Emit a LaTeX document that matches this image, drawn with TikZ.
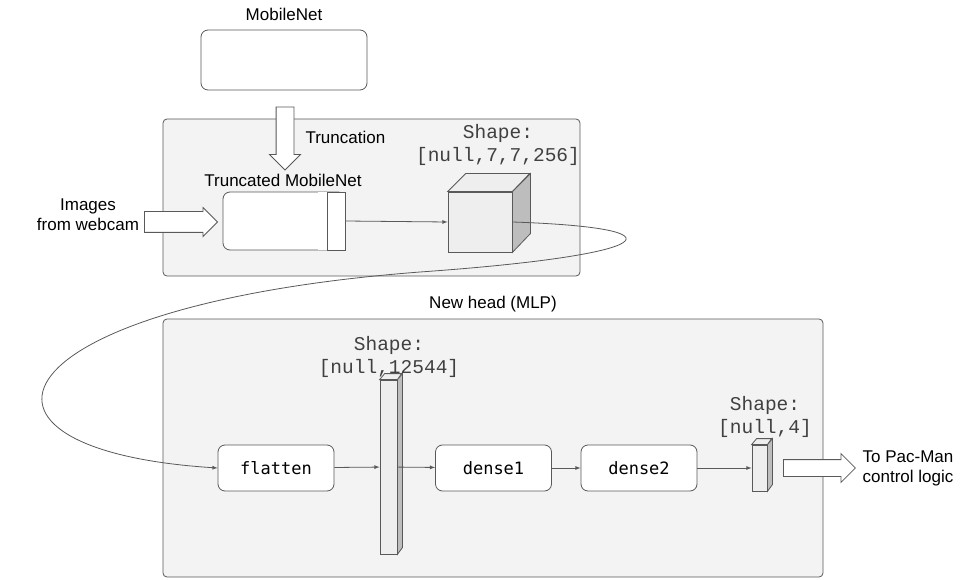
\documentclass[tikz,border=0pt]{standalone}
\usepackage{fontspec}
\setmainfont{Liberation Sans}
\newfontfamily\shapefont{Liberation Mono}
\newfontfamily\layerfont{DejaVu Sans Mono}
\usetikzlibrary{positioning,shapes,arrows}
\definecolor{edgegray}{HTML}{595959}
\definecolor{panel}{HTML}{F3F3F3}
\definecolor{cubefront}{HTML}{EEEEEE}
\definecolor{cubeside}{HTML}{BDBDBD}

\begin{document}
\begin{tikzpicture}[x=1pt,y=-1pt,
	panelbox/.style={draw=edgegray, fill=panel, rounded corners=4pt, line width=0.8pt},
	layer/.style={draw=edgegray, fill=white, rounded corners=7pt, line width=0.8pt, minimum width=116pt, minimum height=46pt, font=\layerfont\fontsize{17}{20}\selectfont},
	shapelbl/.style={align=center, font=\shapefont\fontsize{19.5}{23}\selectfont, text=black!75},
	lbl/.style={align=center, font=\fontsize{17}{20}\selectfont},
	hollow/.style={draw=edgegray, fill=white, single arrow, line width=0.8pt},
	flow/.style={-latex, draw=edgegray, line width=0.8pt},
	block/.style={draw=edgegray, fill=cubefront, line width=0.8pt}
	]
	\useasboundingbox (0,0) rectangle (964,580);

	% panels
	\draw[panelbox] (163,119) rectangle (580,276);
	\draw[panelbox] (163,319) rectangle (823,577);

	% MobileNet
	\node[lbl] (mnlbl) at (284,14) {MobileNet};
	\node[draw=edgegray, fill=white, rounded corners=7pt, line width=0.8pt, minimum width=166pt, minimum height=60pt] (mn) at (284,60) {};
	\node[hollow, inner sep=8.5pt, single arrow head extend=6.5pt, minimum height=63pt, rotate=-90] (trunc) at (285,134) {};
	\node[lbl, anchor=west] (trunclbl) at (302,137) {Truncation};

	% truncated MobileNet
	\node[lbl] (tmlbl) at (283,180) {Truncated MobileNet};
	\node[draw=edgegray, fill=white, line width=0.8pt, minimum width=122pt, minimum height=58pt, rounded corners=7pt] (tm) at (284,221) {};
	\fill[white] (318,192.4) rectangle (344.6,249.6);
	\draw[edgegray, line width=0.8pt] (327,192) -- (345,192) -- (345,250) -- (327,250) -- cycle;

	% input
	\node[lbl] (imglbl) at (88,215) {Images\\from webcam};
	\node[hollow, inner sep=10pt, single arrow head extend=4pt, minimum height=73pt, anchor=tip] (inarrow) at (218,222) {};

	% cube
	\node[block, minimum width=64pt, minimum height=60pt, inner sep=0pt] (cube) at (480,222) {};
	\draw[block, fill=cubefront] (cube.north west) -- ++(18,-18) -- ++(64,0) -- (cube.north east) -- cycle;
	\draw[block, fill=cubeside] (cube.north east) -- ++(18,-18) -- ++(0,60) -- (cube.south east) -- cycle;
	\node[shapelbl] (cubelbl) at (498,145) {Shape:\\{}[null,7,7,256]};
	\draw[flow] (345,221) -- (cube.west);

	% new head
	\node[lbl] (headlbl) at (493,304) {New head (MLP)};
	\node[layer] (flatten) at (276,468) {flatten};
	\node[block, minimum width=17pt, minimum height=174pt, inner sep=0pt] (flat) at (388.5,467) {};
	\draw[block, fill=cubeside] (flat.north east) -- ++(5,-6) -- ++(0,174) -- (flat.south east) -- cycle;
	\draw[block] (flat.north west) -- ++(5,-6) -- ++(17,0) -- (flat.north east) -- cycle;
	\node[shapelbl] (flatlbl) at (389,357) {Shape:\\{}[null,12544]};
	\node[layer] (dense1) at (493.5,468) {dense1};
	\node[layer] (dense2) at (639,468) {dense2};
	\node[block, minimum width=15pt, minimum height=46pt, inner sep=0pt] (out) at (759.5,468) {};
	\draw[block, fill=cubeside] (out.north east) -- ++(5,-6) -- ++(0,46) -- (out.south east) -- cycle;
	\draw[block] (out.north west) -- ++(5,-6) -- ++(15,0) -- (out.north east) -- cycle;
	\node[shapelbl] (outlbl) at (765,417) {Shape:\\{}[null,4]};
	\node[hollow, inner sep=8pt, single arrow head extend=6pt, minimum height=72pt, anchor=tail] (outarrow) at (783,468) {};
	\node[lbl] (paclbl) at (908,468) {To Pac-Man\\control logic};

	\path (flatten) edge[flow] (flat)
	(flat) edge[flow] (dense1)
	(dense1) edge[flow] (dense2)
	(dense2) edge[flow] (out);
	\draw[flow] (cube.east) .. controls (690,228) and (660,255) .. (420,272) .. controls (-10,305) and (-65,450) .. (flatten.west);
\end{tikzpicture}
\end{document}
